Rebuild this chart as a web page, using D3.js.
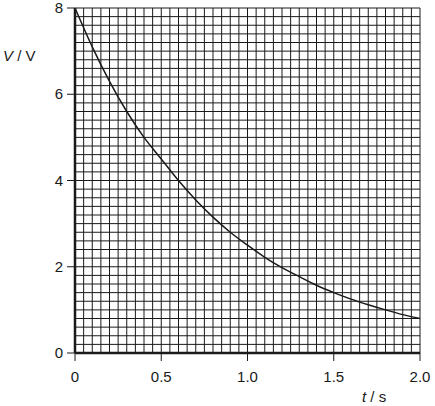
<!DOCTYPE html>
<html><head><meta charset="utf-8">
<script src="https://cdn.jsdelivr.net/npm/d3@7"></script>
<style>body{margin:0;background:#fff}text{font-family:Arial,"Liberation Sans",sans-serif;font-size:15px;fill:#1a1a1a}</style>
</head><body><svg></svg>
<script>
const times = [0,0.1,0.2,0.3,0.4,0.5,0.6,0.7,0.8,0.9,1.0,1.1,1.2,1.3,1.4,1.5,1.6,1.7,1.8,1.9,2.0];
const voltages = [8,7.1,6.3,5.6,5.0,4.5,4.0,3.55,3.15,2.8,2.5,2.22,1.98,1.77,1.57,1.4,1.25,1.12,1.0,0.89,0.8];
const xTicks = ["0","0.5","1.0","1.5","2.0"];
const yTicks = [0,2,4,6,8];

const svg = d3.select("svg").attr("width",435).attr("height",406);
const x = d3.scaleLinear().domain([0,2]).range([75,420]);
const y = d3.scaleLinear().domain([0,8]).range([353,8]);

const grid = svg.append("g").attr("stroke","#1a1a1a").attr("stroke-width",1);
d3.range(0,41).forEach(i => {
  grid.append("line").attr("x1",x(i*0.05)).attr("x2",x(i*0.05)).attr("y1",y(0)).attr("y2",y(8));
  grid.append("line").attr("y1",y(i*0.2)).attr("y2",y(i*0.2)).attr("x1",x(0)).attr("x2",x(2));
});
svg.append("line").attr("x1",x(0)).attr("x2",x(0)).attr("y1",y(0)).attr("y2",y(8)).attr("stroke","#1a1a1a").attr("stroke-width",2.5);
svg.append("line").attr("x1",x(0)).attr("x2",x(2)).attr("y1",y(0)).attr("y2",y(0)).attr("stroke","#1a1a1a").attr("stroke-width",2.5);

xTicks.forEach((t,i) => {
  const xv = x(i*0.5);
  svg.append("line").attr("x1",xv).attr("x2",xv).attr("y1",y(0)).attr("y2",y(0)+8).attr("stroke","#1a1a1a");
  svg.append("text").attr("x",xv).attr("y",382).attr("text-anchor","middle").text(t);
});
yTicks.forEach(v => {
  svg.append("line").attr("x1",x(0)-8).attr("x2",x(0)).attr("y1",y(v)).attr("y2",y(v)).attr("stroke","#1a1a1a");
  svg.append("text").attr("x",x(0)-12).attr("y",y(v)+5).attr("text-anchor","end").text(v);
});

svg.append("path").datum(times.map((t,i)=>[t,voltages[i]]))
  .attr("d", d3.line().x(d=>x(d[0])).y(d=>y(d[1])).curve(d3.curveMonotoneX))
  .attr("fill","none").attr("stroke","#1a1a1a").attr("stroke-width",1.5);

svg.append("text").attr("x",3).attr("y",61).html('<tspan font-style="italic">V</tspan> / V');
svg.append("text").attr("x",362).attr("y",402).html('<tspan font-style="italic">t</tspan> / s');
</script></body></html>
